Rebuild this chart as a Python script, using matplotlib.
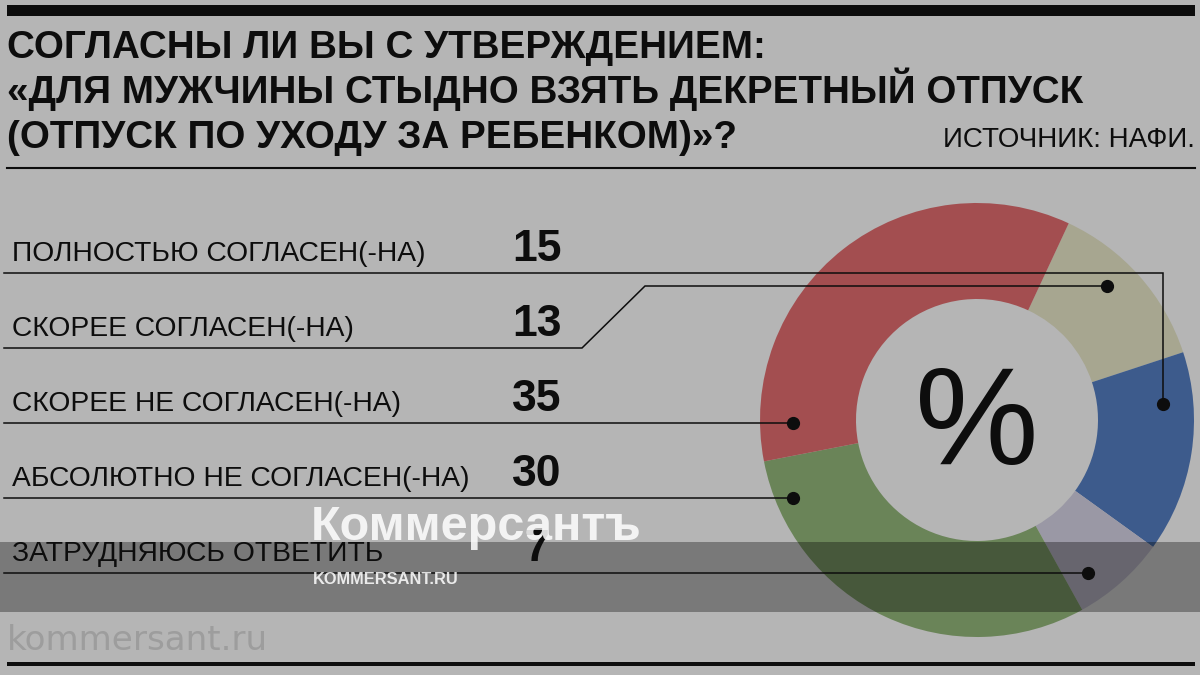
import matplotlib
matplotlib.use('Agg')
import matplotlib.pyplot as plt
from matplotlib.patches import Rectangle

# survey answers, in the order they are listed on the left
categories = ['ПОЛНОСТЬЮ СОГЛАСЕН(-НА)', 'СКОРЕЕ СОГЛАСЕН(-НА)', 'СКОРЕЕ НЕ СОГЛАСЕН(-НА)',
              'АБСОЛЮТНО НЕ СОГЛАСЕН(-НА)', 'ЗАТРУДНЯЮСЬ ОТВЕТИТЬ']
values = [15, 13, 35, 30, 7]
colors = ['#3d5b8c', '#a7a690', '#a34e50', '#6a8458', '#9a98a5']
# clockwise order of the slices on the ring
ring_order = [1, 0, 4, 3, 2]

title_lines = ['СОГЛАСНЫ ЛИ ВЫ С УТВЕРЖДЕНИЕМ:',
               '«ДЛЯ МУЖЧИНЫ СТЫДНО ВЗЯТЬ ДЕКРЕТНЫЙ ОТПУСК',
               '(ОТПУСК ПО УХОДУ ЗА РЕБЕНКОМ)»?']
source = 'ИСТОЧНИК: НАФИ.'

BG = '#b5b5b5'
INK = '#0d0d0d'
W, H = 1200, 675
cx, cy, r_out, r_in = 977, 420, 217, 121

fig = plt.figure(figsize=(12, 6.75), dpi=100, facecolor=BG)

# donut in its own axes
axp = fig.add_axes([(cx - r_out) / W, (H - cy - r_out) / H, 2 * r_out / W, 2 * r_out / H])
axp.pie([values[i] for i in ring_order], colors=[colors[i] for i in ring_order],
        startangle=65, counterclock=False, radius=1,
        wedgeprops=dict(width=(r_out - r_in) / r_out, edgecolor='none'))
axp.set_xlim(-1, 1)
axp.set_ylim(-1, 1)
axp.set_facecolor('none')
axp.axis('off')

# everything else in pixel coordinates on top
ax = fig.add_axes([0, 0, 1, 1])
ax.set_xlim(0, W)
ax.set_ylim(H, 0)
ax.set_facecolor('none')
ax.axis('off')

ax.add_patch(Rectangle((7, 5), 1188, 11, color=INK, lw=0))
ax.plot([7, 1195], [168, 168], color=INK, lw=1.5)
ax.add_patch(Rectangle((7, 662), 1188, 4, color=INK, lw=0))

for i, line in enumerate(title_lines):
    ax.text(7, 58 + 45 * i, line, fontsize=27.8, fontweight='bold', color=INK,
            family='Liberation Sans', va='baseline')
ax.text(1195, 147, source, fontsize=20, color=INK, family='Liberation Sans',
        ha='right', va='baseline')

# label rows and leader lines
row0, step = 273, 75
leaders = [
    [(1163, 273), (1163, 404)],
    [(582, 348), (645, 286), (1107, 286)],
    [(793, 423)],
    [(793, 498)],
    [(1088, 573)],
]
for i, (cat, val) in enumerate(zip(categories, values)):
    y = row0 + step * i
    ax.text(12, y - 12, cat, fontsize=20.3, color=INK, family='Liberation Sans', va='baseline')
    ax.text(537, y - 12, str(val), fontsize=32, fontweight='bold', color=INK,
            family='Liberation Sans', ha='center', va='baseline')
    pts = [(4, y)] + leaders[i]
    ax.plot([p[0] for p in pts], [p[1] for p in pts], color=INK, lw=1.1,
            solid_joinstyle='miter')
    ax.plot(*pts[-1], 'o', color=INK, ms=8.5)

ax.text(cx, cy + 44, '%', fontsize=100, color=INK, family='Liberation Sans',
        ha='center', va='baseline')

# watermark band
ax.add_patch(Rectangle((0, 542), W, 70, color='black', alpha=0.33, lw=0))
ax.text(311, 540, 'Коммерсантъ', fontsize=35, fontweight='bold', color='white', alpha=0.85,
        family='Liberation Sans', va='baseline')
ax.text(313, 584, 'KOMMERSANT.RU', fontsize=11.8, fontweight='bold', color='white', alpha=0.85,
        family='Liberation Sans', va='baseline')
ax.text(7, 650, 'kommersant.ru', fontsize=24.6, color='#9d9d9d', family='DejaVu Sans',
        va='baseline')

fig.savefig('out.png', dpi=100, facecolor=BG)
